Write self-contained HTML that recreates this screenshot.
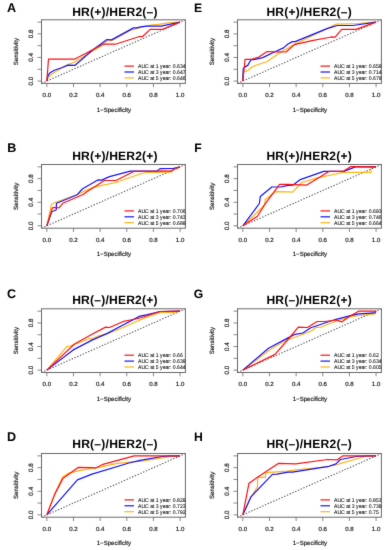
<!DOCTYPE html><html><head><meta charset="utf-8"><style>html,body{margin:0;padding:0;background:#fff;width:385px;height:550px;overflow:hidden}svg{display:block}text{font-family:"Liberation Sans",Arial,sans-serif;text-rendering:geometricPrecision}.s{stroke:#333;stroke-width:0.2;paint-order:stroke}.s2{stroke:#333;stroke-width:0.12;paint-order:stroke}svg{filter:none}</style></head><body>
<svg width="385" height="550" viewBox="0 0 385 550">
<rect width="385" height="550" fill="#fff"/>
<defs>
<filter id="soft" x="0" y="0" width="100%" height="100%" color-interpolation-filters="sRGB"><feConvolveMatrix order="3" kernelMatrix="0.01 0.065 0.01 0.065 0.7 0.065 0.01 0.065 0.01" divisor="1" edgeMode="duplicate"/></filter>
<clipPath id="cpA"><rect x="41.5" y="19.8" width="143.9" height="63.6"/></clipPath>
<clipPath id="cpB"><rect x="41.5" y="164.5" width="143.9" height="63.7"/></clipPath>
<clipPath id="cpC"><rect x="41.5" y="308.8" width="143.9" height="63.7"/></clipPath>
<clipPath id="cpD"><rect x="41.5" y="453.5" width="143.9" height="63.7"/></clipPath>
<clipPath id="cpE"><rect x="237.5" y="19.8" width="143.9" height="63.6"/></clipPath>
<clipPath id="cpF"><rect x="237.5" y="164.5" width="143.9" height="63.7"/></clipPath>
<clipPath id="cpG"><rect x="237.5" y="308.8" width="143.9" height="63.7"/></clipPath>
<clipPath id="cpH"><rect x="237.5" y="453.5" width="143.9" height="63.7"/></clipPath>
</defs>
<g filter="url(#soft)">
<rect width="385" height="550" fill="#fff"/>
<g><text x="7" y="11.6" font-size="12.6" font-weight="bold" fill="#000">A</text><text x="72.2" y="15.6" font-size="12.1" font-weight="bold" fill="#000" textLength="85.3" lengthAdjust="spacing">HR(+)/HER2(–)</text><line x1="41.5" y1="83.4" x2="185.4" y2="19.8" stroke="#5a5a5a" stroke-width="1.1" stroke-dasharray="1.4 1.6" clip-path="url(#cpA)"/><polyline points="46.83,81.04 47.8,78 52.4,73.5 68,64.4 74.5,62.2 92,51.4 103,44.8 107.8,40.4 111.6,40.8 130.4,30.5 134.5,29.4 140.8,27.1 151.2,25.1 160,24.2 168.5,22.9 180.07,22.16" fill="none" stroke="#ffb414" stroke-width="1.2" stroke-linejoin="round"/><polyline points="46.83,81.04 47.8,76.1 49.8,72.9 53.7,70.5 61.5,67.7 68,65.1 75.1,65.3 92,50.5 107,39.5 111.6,39.9 133.5,27.9 136.6,27.9 140.8,26.8 147,26.2 161.3,26.2 180.07,22.16" fill="none" stroke="#1414ff" stroke-width="1.2" stroke-linejoin="round"/><polyline points="46.83,81.04 48.5,59.2 74.5,59.2 103,44.2 115.4,44.2 138.7,36.7 142.3,36.7 150.2,29.4 162.5,29.4 180.07,22.16" fill="none" stroke="#ff1010" stroke-width="1.2" stroke-linejoin="round"/><rect x="41.5" y="19.8" width="143.9" height="63.6" fill="none" stroke="#6a6a6a" stroke-width="1"/><line x1="37.5" y1="81.04" x2="41.5" y2="81.04" stroke="#6a6a6a" stroke-width="0.8"/><line x1="46.83" y1="83.4" x2="46.83" y2="87.2" stroke="#6a6a6a" stroke-width="0.8"/><text x="46.83" y="97" class="s" font-size="6.1" text-anchor="middle" fill="#222">0.0</text><line x1="37.5" y1="69.27" x2="41.5" y2="69.27" stroke="#6a6a6a" stroke-width="0.8"/><line x1="73.48" y1="83.4" x2="73.48" y2="87.2" stroke="#6a6a6a" stroke-width="0.8"/><text x="73.48" y="97" class="s" font-size="6.1" text-anchor="middle" fill="#222">0.2</text><line x1="37.5" y1="57.49" x2="41.5" y2="57.49" stroke="#6a6a6a" stroke-width="0.8"/><line x1="100.13" y1="83.4" x2="100.13" y2="87.2" stroke="#6a6a6a" stroke-width="0.8"/><text x="100.13" y="97" class="s" font-size="6.1" text-anchor="middle" fill="#222">0.4</text><line x1="37.5" y1="45.71" x2="41.5" y2="45.71" stroke="#6a6a6a" stroke-width="0.8"/><line x1="126.77" y1="83.4" x2="126.77" y2="87.2" stroke="#6a6a6a" stroke-width="0.8"/><text x="126.77" y="97" class="s" font-size="6.1" text-anchor="middle" fill="#222">0.6</text><line x1="37.5" y1="33.93" x2="41.5" y2="33.93" stroke="#6a6a6a" stroke-width="0.8"/><line x1="153.42" y1="83.4" x2="153.42" y2="87.2" stroke="#6a6a6a" stroke-width="0.8"/><text x="153.42" y="97" class="s" font-size="6.1" text-anchor="middle" fill="#222">0.8</text><line x1="37.5" y1="22.16" x2="41.5" y2="22.16" stroke="#6a6a6a" stroke-width="0.8"/><line x1="180.07" y1="83.4" x2="180.07" y2="87.2" stroke="#6a6a6a" stroke-width="0.8"/><text x="180.07" y="97" class="s" font-size="6.1" text-anchor="middle" fill="#222">1.0</text><text transform="translate(33.1,81.04) rotate(-90)" class="s" font-size="6.3" text-anchor="middle" fill="#222">0.0</text><text transform="translate(33.1,57.49) rotate(-90)" class="s" font-size="6.3" text-anchor="middle" fill="#222">0.4</text><text transform="translate(33.1,33.93) rotate(-90)" class="s" font-size="6.3" text-anchor="middle" fill="#222">0.8</text><text transform="translate(17.8,51.6) rotate(-90)" class="s" font-size="6.1" text-anchor="middle" fill="#222">Sensitivity</text><text x="113.9" y="111.6" class="s" font-size="6.1" text-anchor="middle" fill="#222">1−Specificity</text><line x1="124.5" y1="66.1" x2="134" y2="66.1" stroke="#ff1010" stroke-width="1.2"/><text x="138" y="68.05" class="s2" font-size="5.4" fill="#222" textLength="47.58" lengthAdjust="spacingAndGlyphs">AUC at 1 year: 0.634</text><line x1="124.5" y1="72" x2="134" y2="72" stroke="#1414ff" stroke-width="1.2"/><text x="138" y="73.95" class="s2" font-size="5.4" fill="#222" textLength="47.58" lengthAdjust="spacingAndGlyphs">AUC at 3 year: 0.647</text><line x1="124.5" y1="77.9" x2="134" y2="77.9" stroke="#ffb414" stroke-width="1.2"/><text x="138" y="79.85" class="s2" font-size="5.4" fill="#222" textLength="47.58" lengthAdjust="spacingAndGlyphs">AUC at 5 year: 0.646</text></g>
<g><text x="7.3" y="151.8" font-size="12.6" font-weight="bold" fill="#000">B</text><text x="72.2" y="159.8" font-size="12.1" font-weight="bold" fill="#000" textLength="85.3" lengthAdjust="spacing">HR(+)/HER2(+)</text><line x1="41.5" y1="228.2" x2="185.4" y2="164.5" stroke="#5a5a5a" stroke-width="1.1" stroke-dasharray="1.4 1.6" clip-path="url(#cpB)"/><polyline points="46.83,225.84 51.4,204.3 56.3,202 77.1,194.8 84.9,190.9 92,187.7 103,185.1 116,182.5 140,174 146.4,172.5 171,172.1 174.3,169.5 180.07,166.86" fill="none" stroke="#ffb414" stroke-width="1.2" stroke-linejoin="round"/><polyline points="46.83,225.84 51.7,211.7 54.3,210.8 56.3,209.8 56.5,203.3 62.8,200.7 77.1,194.8 82.3,189 90,184.4 97.8,179.9 101.7,180.1 109.5,176.6 130.3,171.1 156.8,171.1 160,168.6 173.7,168.4 180.07,166.86" fill="none" stroke="#1414ff" stroke-width="1.2" stroke-linejoin="round"/><polyline points="46.83,225.84 52.4,207.8 55,207.4 58.9,207.8 62.8,203.3 83.6,194.2 86.8,191.8 92,188.5 104.3,180.5 116,180.5 134.2,171.3 157.4,171.3 160,170.8 171,171.1 175,168.8 180.07,166.86" fill="none" stroke="#ff1010" stroke-width="1.2" stroke-linejoin="round"/><rect x="41.5" y="164.5" width="143.9" height="63.7" fill="none" stroke="#6a6a6a" stroke-width="1"/><line x1="37.5" y1="225.84" x2="41.5" y2="225.84" stroke="#6a6a6a" stroke-width="0.8"/><line x1="46.83" y1="228.2" x2="46.83" y2="232" stroke="#6a6a6a" stroke-width="0.8"/><text x="46.83" y="241.8" class="s" font-size="6.1" text-anchor="middle" fill="#222">0.0</text><line x1="37.5" y1="214.04" x2="41.5" y2="214.04" stroke="#6a6a6a" stroke-width="0.8"/><line x1="73.48" y1="228.2" x2="73.48" y2="232" stroke="#6a6a6a" stroke-width="0.8"/><text x="73.48" y="241.8" class="s" font-size="6.1" text-anchor="middle" fill="#222">0.2</text><line x1="37.5" y1="202.25" x2="41.5" y2="202.25" stroke="#6a6a6a" stroke-width="0.8"/><line x1="100.13" y1="228.2" x2="100.13" y2="232" stroke="#6a6a6a" stroke-width="0.8"/><text x="100.13" y="241.8" class="s" font-size="6.1" text-anchor="middle" fill="#222">0.4</text><line x1="37.5" y1="190.45" x2="41.5" y2="190.45" stroke="#6a6a6a" stroke-width="0.8"/><line x1="126.77" y1="228.2" x2="126.77" y2="232" stroke="#6a6a6a" stroke-width="0.8"/><text x="126.77" y="241.8" class="s" font-size="6.1" text-anchor="middle" fill="#222">0.6</text><line x1="37.5" y1="178.66" x2="41.5" y2="178.66" stroke="#6a6a6a" stroke-width="0.8"/><line x1="153.42" y1="228.2" x2="153.42" y2="232" stroke="#6a6a6a" stroke-width="0.8"/><text x="153.42" y="241.8" class="s" font-size="6.1" text-anchor="middle" fill="#222">0.8</text><line x1="37.5" y1="166.86" x2="41.5" y2="166.86" stroke="#6a6a6a" stroke-width="0.8"/><line x1="180.07" y1="228.2" x2="180.07" y2="232" stroke="#6a6a6a" stroke-width="0.8"/><text x="180.07" y="241.8" class="s" font-size="6.1" text-anchor="middle" fill="#222">1.0</text><text transform="translate(33.1,225.84) rotate(-90)" class="s" font-size="6.3" text-anchor="middle" fill="#222">0.0</text><text transform="translate(33.1,202.25) rotate(-90)" class="s" font-size="6.3" text-anchor="middle" fill="#222">0.4</text><text transform="translate(33.1,178.66) rotate(-90)" class="s" font-size="6.3" text-anchor="middle" fill="#222">0.8</text><text transform="translate(17.8,196.35) rotate(-90)" class="s" font-size="6.1" text-anchor="middle" fill="#222">Sensitivity</text><text x="113.9" y="256.4" class="s" font-size="6.1" text-anchor="middle" fill="#222">1−Specificity</text><line x1="124.5" y1="210.9" x2="134" y2="210.9" stroke="#ff1010" stroke-width="1.2"/><text x="138" y="212.85" class="s2" font-size="5.4" fill="#222" textLength="47.58" lengthAdjust="spacingAndGlyphs">AUC at 1 year: 0.706</text><line x1="124.5" y1="216.8" x2="134" y2="216.8" stroke="#1414ff" stroke-width="1.2"/><text x="138" y="218.75" class="s2" font-size="5.4" fill="#222" textLength="47.58" lengthAdjust="spacingAndGlyphs">AUC at 3 year: 0.743</text><line x1="124.5" y1="222.7" x2="134" y2="222.7" stroke="#ffb414" stroke-width="1.2"/><text x="138" y="224.65" class="s2" font-size="5.4" fill="#222" textLength="47.58" lengthAdjust="spacingAndGlyphs">AUC at 5 year: 0.689</text></g>
<g><text x="6.9" y="297.8" font-size="12.6" font-weight="bold" fill="#000">C</text><text x="72.2" y="304" font-size="12.1" font-weight="bold" fill="#000" textLength="85.3" lengthAdjust="spacing">HR(–)/HER2(+)</text><line x1="41.5" y1="372.5" x2="185.4" y2="308.8" stroke="#5a5a5a" stroke-width="1.1" stroke-dasharray="1.4 1.6" clip-path="url(#cpC)"/><polyline points="46.83,370.14 66.7,346.6 69.9,346 75.8,344 88.8,338.8 92,338.8 97.8,336.2 106.9,333.6 114.7,331 140,320 149,316.1 160.7,312.5 173.7,312.5 180.07,311.16" fill="none" stroke="#ffb414" stroke-width="1.2" stroke-linejoin="round"/><polyline points="46.83,370.14 73.2,349.9 92,340.1 106.9,333.6 122.5,325.2 140,316.1 146.4,314.8 160,311.5 180.07,311.16" fill="none" stroke="#1414ff" stroke-width="1.2" stroke-linejoin="round"/><polyline points="46.83,370.14 74.5,344 92,334.3 105.6,327.1 109.5,327.5 123.8,321.3 130.3,320 140,318 160,311.5 180.07,311.16" fill="none" stroke="#ff1010" stroke-width="1.2" stroke-linejoin="round"/><rect x="41.5" y="308.8" width="143.9" height="63.7" fill="none" stroke="#6a6a6a" stroke-width="1"/><line x1="37.5" y1="370.14" x2="41.5" y2="370.14" stroke="#6a6a6a" stroke-width="0.8"/><line x1="46.83" y1="372.5" x2="46.83" y2="376.3" stroke="#6a6a6a" stroke-width="0.8"/><text x="46.83" y="386.1" class="s" font-size="6.1" text-anchor="middle" fill="#222">0.0</text><line x1="37.5" y1="358.34" x2="41.5" y2="358.34" stroke="#6a6a6a" stroke-width="0.8"/><line x1="73.48" y1="372.5" x2="73.48" y2="376.3" stroke="#6a6a6a" stroke-width="0.8"/><text x="73.48" y="386.1" class="s" font-size="6.1" text-anchor="middle" fill="#222">0.2</text><line x1="37.5" y1="346.55" x2="41.5" y2="346.55" stroke="#6a6a6a" stroke-width="0.8"/><line x1="100.13" y1="372.5" x2="100.13" y2="376.3" stroke="#6a6a6a" stroke-width="0.8"/><text x="100.13" y="386.1" class="s" font-size="6.1" text-anchor="middle" fill="#222">0.4</text><line x1="37.5" y1="334.75" x2="41.5" y2="334.75" stroke="#6a6a6a" stroke-width="0.8"/><line x1="126.77" y1="372.5" x2="126.77" y2="376.3" stroke="#6a6a6a" stroke-width="0.8"/><text x="126.77" y="386.1" class="s" font-size="6.1" text-anchor="middle" fill="#222">0.6</text><line x1="37.5" y1="322.96" x2="41.5" y2="322.96" stroke="#6a6a6a" stroke-width="0.8"/><line x1="153.42" y1="372.5" x2="153.42" y2="376.3" stroke="#6a6a6a" stroke-width="0.8"/><text x="153.42" y="386.1" class="s" font-size="6.1" text-anchor="middle" fill="#222">0.8</text><line x1="37.5" y1="311.16" x2="41.5" y2="311.16" stroke="#6a6a6a" stroke-width="0.8"/><line x1="180.07" y1="372.5" x2="180.07" y2="376.3" stroke="#6a6a6a" stroke-width="0.8"/><text x="180.07" y="386.1" class="s" font-size="6.1" text-anchor="middle" fill="#222">1.0</text><text transform="translate(33.1,370.14) rotate(-90)" class="s" font-size="6.3" text-anchor="middle" fill="#222">0.0</text><text transform="translate(33.1,346.55) rotate(-90)" class="s" font-size="6.3" text-anchor="middle" fill="#222">0.4</text><text transform="translate(33.1,322.96) rotate(-90)" class="s" font-size="6.3" text-anchor="middle" fill="#222">0.8</text><text transform="translate(17.8,340.65) rotate(-90)" class="s" font-size="6.1" text-anchor="middle" fill="#222">Sensitivity</text><text x="113.9" y="400.7" class="s" font-size="6.1" text-anchor="middle" fill="#222">1−Specificity</text><line x1="124.5" y1="355.2" x2="134" y2="355.2" stroke="#ff1010" stroke-width="1.2"/><text x="138" y="357.15" class="s2" font-size="5.4" fill="#222" textLength="44.74" lengthAdjust="spacingAndGlyphs">AUC at 1 year: 0.66</text><line x1="124.5" y1="361.1" x2="134" y2="361.1" stroke="#1414ff" stroke-width="1.2"/><text x="138" y="363.05" class="s2" font-size="5.4" fill="#222" textLength="47.58" lengthAdjust="spacingAndGlyphs">AUC at 3 year: 0.639</text><line x1="124.5" y1="367" x2="134" y2="367" stroke="#ffb414" stroke-width="1.2"/><text x="138" y="368.95" class="s2" font-size="5.4" fill="#222" textLength="47.58" lengthAdjust="spacingAndGlyphs">AUC at 5 year: 0.644</text></g>
<g><text x="7" y="441" font-size="12.6" font-weight="bold" fill="#000">D</text><text x="72.2" y="448.2" font-size="12.1" font-weight="bold" fill="#000" textLength="85.3" lengthAdjust="spacing">HR(–)/HER2(–)</text><line x1="41.5" y1="517.2" x2="185.4" y2="453.5" stroke="#5a5a5a" stroke-width="1.1" stroke-dasharray="1.4 1.6" clip-path="url(#cpD)"/><polyline points="46.83,514.84 54.3,494.9 62.8,476.7 68,473.4 78.4,470.8 92,468.2 97.8,467.6 116,463.7 129,462.1 140,461.4 162,457.8 172.4,456.5 180.07,455.86" fill="none" stroke="#ffb414" stroke-width="1.2" stroke-linejoin="round"/><polyline points="46.83,514.84 77.4,479.9 92,474.1 129,463 140,460.4 162,456.5 169.8,455.9 180.07,455.86" fill="none" stroke="#1414ff" stroke-width="1.2" stroke-linejoin="round"/><polyline points="46.83,514.84 55,493.6 62.8,478.6 78.4,467.3 92,467.6 95.2,468.2 103,464.3 134.2,455.8 180.07,455.86" fill="none" stroke="#ff1010" stroke-width="1.2" stroke-linejoin="round"/><rect x="41.5" y="453.5" width="143.9" height="63.7" fill="none" stroke="#6a6a6a" stroke-width="1"/><line x1="37.5" y1="514.84" x2="41.5" y2="514.84" stroke="#6a6a6a" stroke-width="0.8"/><line x1="46.83" y1="517.2" x2="46.83" y2="521" stroke="#6a6a6a" stroke-width="0.8"/><text x="46.83" y="530.8" class="s" font-size="6.1" text-anchor="middle" fill="#222">0.0</text><line x1="37.5" y1="503.04" x2="41.5" y2="503.04" stroke="#6a6a6a" stroke-width="0.8"/><line x1="73.48" y1="517.2" x2="73.48" y2="521" stroke="#6a6a6a" stroke-width="0.8"/><text x="73.48" y="530.8" class="s" font-size="6.1" text-anchor="middle" fill="#222">0.2</text><line x1="37.5" y1="491.25" x2="41.5" y2="491.25" stroke="#6a6a6a" stroke-width="0.8"/><line x1="100.13" y1="517.2" x2="100.13" y2="521" stroke="#6a6a6a" stroke-width="0.8"/><text x="100.13" y="530.8" class="s" font-size="6.1" text-anchor="middle" fill="#222">0.4</text><line x1="37.5" y1="479.45" x2="41.5" y2="479.45" stroke="#6a6a6a" stroke-width="0.8"/><line x1="126.77" y1="517.2" x2="126.77" y2="521" stroke="#6a6a6a" stroke-width="0.8"/><text x="126.77" y="530.8" class="s" font-size="6.1" text-anchor="middle" fill="#222">0.6</text><line x1="37.5" y1="467.66" x2="41.5" y2="467.66" stroke="#6a6a6a" stroke-width="0.8"/><line x1="153.42" y1="517.2" x2="153.42" y2="521" stroke="#6a6a6a" stroke-width="0.8"/><text x="153.42" y="530.8" class="s" font-size="6.1" text-anchor="middle" fill="#222">0.8</text><line x1="37.5" y1="455.86" x2="41.5" y2="455.86" stroke="#6a6a6a" stroke-width="0.8"/><line x1="180.07" y1="517.2" x2="180.07" y2="521" stroke="#6a6a6a" stroke-width="0.8"/><text x="180.07" y="530.8" class="s" font-size="6.1" text-anchor="middle" fill="#222">1.0</text><text transform="translate(33.1,514.84) rotate(-90)" class="s" font-size="6.3" text-anchor="middle" fill="#222">0.0</text><text transform="translate(33.1,491.25) rotate(-90)" class="s" font-size="6.3" text-anchor="middle" fill="#222">0.4</text><text transform="translate(33.1,467.66) rotate(-90)" class="s" font-size="6.3" text-anchor="middle" fill="#222">0.8</text><text transform="translate(17.8,485.35) rotate(-90)" class="s" font-size="6.1" text-anchor="middle" fill="#222">Sensitivity</text><text x="113.9" y="545.4" class="s" font-size="6.1" text-anchor="middle" fill="#222">1−Specificity</text><line x1="124.5" y1="499.9" x2="134" y2="499.9" stroke="#ff1010" stroke-width="1.2"/><text x="138" y="501.85" class="s2" font-size="5.4" fill="#222" textLength="47.58" lengthAdjust="spacingAndGlyphs">AUC at 1 year: 0.829</text><line x1="124.5" y1="505.8" x2="134" y2="505.8" stroke="#1414ff" stroke-width="1.2"/><text x="138" y="507.75" class="s2" font-size="5.4" fill="#222" textLength="47.58" lengthAdjust="spacingAndGlyphs">AUC at 3 year: 0.723</text><line x1="124.5" y1="511.7" x2="134" y2="511.7" stroke="#ffb414" stroke-width="1.2"/><text x="138" y="513.65" class="s2" font-size="5.4" fill="#222" textLength="47.58" lengthAdjust="spacingAndGlyphs">AUC at 5 year: 0.792</text></g>
<g><text x="194.1" y="11.8" font-size="12.2" font-weight="bold" fill="#000">E</text><text x="266.4" y="15.6" font-size="12.1" font-weight="bold" fill="#000" textLength="85.3" lengthAdjust="spacing">HR(+)/HER2(–)</text><line x1="237.5" y1="83.4" x2="381.4" y2="19.8" stroke="#5a5a5a" stroke-width="1.1" stroke-dasharray="1.4 1.6" clip-path="url(#cpE)"/><polyline points="242.83,81.04 243.2,72.5 244.5,71.5 247.7,70.6 252.3,66.7 267.2,61.5 280.9,52 288,47.9 293.8,44.6 328.9,27.7 332,26.1 335.9,24.2 358,23.5 376.07,22.16" fill="none" stroke="#ffb414" stroke-width="1.2" stroke-linejoin="round"/><polyline points="242.83,81.04 243.2,68.6 244.5,67.1 247.7,65.4 251,59.8 254.9,59.3 262.7,57.6 274.4,52 283.5,47.9 288,44 292.5,41.6 295.1,41.6 327.6,28.4 332,27.1 337.2,25.5 352.8,25.5 376.07,22.16" fill="none" stroke="#1414ff" stroke-width="1.2" stroke-linejoin="round"/><polyline points="242.83,81.04 245.1,59.3 251.6,59.3 258.8,57 267.2,51.5 275,51.8 286,52 294.4,44.6 312,40.7 328.9,37.5 332,36.8 335.2,37.2 341.7,29.4 356,29.4 376.07,22.16" fill="none" stroke="#ff1010" stroke-width="1.2" stroke-linejoin="round"/><rect x="237.5" y="19.8" width="143.9" height="63.6" fill="none" stroke="#6a6a6a" stroke-width="1"/><line x1="233.5" y1="81.04" x2="237.5" y2="81.04" stroke="#6a6a6a" stroke-width="0.8"/><line x1="242.83" y1="83.4" x2="242.83" y2="87.2" stroke="#6a6a6a" stroke-width="0.8"/><text x="242.83" y="97" class="s" font-size="6.1" text-anchor="middle" fill="#222">0.0</text><line x1="233.5" y1="69.27" x2="237.5" y2="69.27" stroke="#6a6a6a" stroke-width="0.8"/><line x1="269.48" y1="83.4" x2="269.48" y2="87.2" stroke="#6a6a6a" stroke-width="0.8"/><text x="269.48" y="97" class="s" font-size="6.1" text-anchor="middle" fill="#222">0.2</text><line x1="233.5" y1="57.49" x2="237.5" y2="57.49" stroke="#6a6a6a" stroke-width="0.8"/><line x1="296.13" y1="83.4" x2="296.13" y2="87.2" stroke="#6a6a6a" stroke-width="0.8"/><text x="296.13" y="97" class="s" font-size="6.1" text-anchor="middle" fill="#222">0.4</text><line x1="233.5" y1="45.71" x2="237.5" y2="45.71" stroke="#6a6a6a" stroke-width="0.8"/><line x1="322.77" y1="83.4" x2="322.77" y2="87.2" stroke="#6a6a6a" stroke-width="0.8"/><text x="322.77" y="97" class="s" font-size="6.1" text-anchor="middle" fill="#222">0.6</text><line x1="233.5" y1="33.93" x2="237.5" y2="33.93" stroke="#6a6a6a" stroke-width="0.8"/><line x1="349.42" y1="83.4" x2="349.42" y2="87.2" stroke="#6a6a6a" stroke-width="0.8"/><text x="349.42" y="97" class="s" font-size="6.1" text-anchor="middle" fill="#222">0.8</text><line x1="233.5" y1="22.16" x2="237.5" y2="22.16" stroke="#6a6a6a" stroke-width="0.8"/><line x1="376.07" y1="83.4" x2="376.07" y2="87.2" stroke="#6a6a6a" stroke-width="0.8"/><text x="376.07" y="97" class="s" font-size="6.1" text-anchor="middle" fill="#222">1.0</text><text transform="translate(229.1,81.04) rotate(-90)" class="s" font-size="6.3" text-anchor="middle" fill="#222">0.0</text><text transform="translate(229.1,57.49) rotate(-90)" class="s" font-size="6.3" text-anchor="middle" fill="#222">0.4</text><text transform="translate(229.1,33.93) rotate(-90)" class="s" font-size="6.3" text-anchor="middle" fill="#222">0.8</text><text transform="translate(213.8,51.6) rotate(-90)" class="s" font-size="6.1" text-anchor="middle" fill="#222">Sensitivity</text><text x="309.9" y="111.6" class="s" font-size="6.1" text-anchor="middle" fill="#222">1−Specificity</text><line x1="320.5" y1="66.1" x2="330" y2="66.1" stroke="#ff1010" stroke-width="1.2"/><text x="334" y="68.05" class="s2" font-size="5.4" fill="#222" textLength="47.58" lengthAdjust="spacingAndGlyphs">AUC at 1 year: 0.659</text><line x1="320.5" y1="72" x2="330" y2="72" stroke="#1414ff" stroke-width="1.2"/><text x="334" y="73.95" class="s2" font-size="5.4" fill="#222" textLength="47.58" lengthAdjust="spacingAndGlyphs">AUC at 3 year: 0.714</text><line x1="320.5" y1="77.9" x2="330" y2="77.9" stroke="#ffb414" stroke-width="1.2"/><text x="334" y="79.85" class="s2" font-size="5.4" fill="#222" textLength="47.58" lengthAdjust="spacingAndGlyphs">AUC at 5 year: 0.679</text></g>
<g><text x="194.3" y="151.9" font-size="12.2" font-weight="bold" fill="#000">F</text><text x="266.4" y="159.8" font-size="12.1" font-weight="bold" fill="#000" textLength="85.3" lengthAdjust="spacing">HR(+)/HER2(+)</text><line x1="237.5" y1="228.2" x2="381.4" y2="164.5" stroke="#5a5a5a" stroke-width="1.1" stroke-dasharray="1.4 1.6" clip-path="url(#cpF)"/><polyline points="242.83,225.84 264.6,205.2 265.3,199.4 275.7,191.6 288,191.8 292.5,192.2 301.6,182.5 317.2,177.9 336,174 342.4,172.4 371,172.4 371,166.9 376.07,166.86" fill="none" stroke="#ffb414" stroke-width="1.2" stroke-linejoin="round"/><polyline points="242.83,225.84 259.4,203.5 260.3,196.5 271.8,187 280.9,187 288,185.3 293.1,185.1 300.3,179.6 323.7,171.4 343.7,171.4 356,166.6 376.07,166.86" fill="none" stroke="#1414ff" stroke-width="1.2" stroke-linejoin="round"/><polyline points="242.83,225.84 257.5,216.2 264.6,204.6 279.6,184.4 288,184.4 306.8,185.1 328.9,171.4 343,171.4 350.8,166.6 376.07,166.86" fill="none" stroke="#ff1010" stroke-width="1.2" stroke-linejoin="round"/><rect x="237.5" y="164.5" width="143.9" height="63.7" fill="none" stroke="#6a6a6a" stroke-width="1"/><line x1="233.5" y1="225.84" x2="237.5" y2="225.84" stroke="#6a6a6a" stroke-width="0.8"/><line x1="242.83" y1="228.2" x2="242.83" y2="232" stroke="#6a6a6a" stroke-width="0.8"/><text x="242.83" y="241.8" class="s" font-size="6.1" text-anchor="middle" fill="#222">0.0</text><line x1="233.5" y1="214.04" x2="237.5" y2="214.04" stroke="#6a6a6a" stroke-width="0.8"/><line x1="269.48" y1="228.2" x2="269.48" y2="232" stroke="#6a6a6a" stroke-width="0.8"/><text x="269.48" y="241.8" class="s" font-size="6.1" text-anchor="middle" fill="#222">0.2</text><line x1="233.5" y1="202.25" x2="237.5" y2="202.25" stroke="#6a6a6a" stroke-width="0.8"/><line x1="296.13" y1="228.2" x2="296.13" y2="232" stroke="#6a6a6a" stroke-width="0.8"/><text x="296.13" y="241.8" class="s" font-size="6.1" text-anchor="middle" fill="#222">0.4</text><line x1="233.5" y1="190.45" x2="237.5" y2="190.45" stroke="#6a6a6a" stroke-width="0.8"/><line x1="322.77" y1="228.2" x2="322.77" y2="232" stroke="#6a6a6a" stroke-width="0.8"/><text x="322.77" y="241.8" class="s" font-size="6.1" text-anchor="middle" fill="#222">0.6</text><line x1="233.5" y1="178.66" x2="237.5" y2="178.66" stroke="#6a6a6a" stroke-width="0.8"/><line x1="349.42" y1="228.2" x2="349.42" y2="232" stroke="#6a6a6a" stroke-width="0.8"/><text x="349.42" y="241.8" class="s" font-size="6.1" text-anchor="middle" fill="#222">0.8</text><line x1="233.5" y1="166.86" x2="237.5" y2="166.86" stroke="#6a6a6a" stroke-width="0.8"/><line x1="376.07" y1="228.2" x2="376.07" y2="232" stroke="#6a6a6a" stroke-width="0.8"/><text x="376.07" y="241.8" class="s" font-size="6.1" text-anchor="middle" fill="#222">1.0</text><text transform="translate(229.1,225.84) rotate(-90)" class="s" font-size="6.3" text-anchor="middle" fill="#222">0.0</text><text transform="translate(229.1,202.25) rotate(-90)" class="s" font-size="6.3" text-anchor="middle" fill="#222">0.4</text><text transform="translate(229.1,178.66) rotate(-90)" class="s" font-size="6.3" text-anchor="middle" fill="#222">0.8</text><text transform="translate(213.8,196.35) rotate(-90)" class="s" font-size="6.1" text-anchor="middle" fill="#222">Sensitivity</text><text x="309.9" y="256.4" class="s" font-size="6.1" text-anchor="middle" fill="#222">1−Specificity</text><line x1="320.5" y1="210.9" x2="330" y2="210.9" stroke="#ff1010" stroke-width="1.2"/><text x="334" y="212.85" class="s2" font-size="5.4" fill="#222" textLength="47.58" lengthAdjust="spacingAndGlyphs">AUC at 1 year: 0.693</text><line x1="320.5" y1="216.8" x2="330" y2="216.8" stroke="#1414ff" stroke-width="1.2"/><text x="334" y="218.75" class="s2" font-size="5.4" fill="#222" textLength="47.58" lengthAdjust="spacingAndGlyphs">AUC at 3 year: 0.746</text><line x1="320.5" y1="222.7" x2="330" y2="222.7" stroke="#ffb414" stroke-width="1.2"/><text x="334" y="224.65" class="s2" font-size="5.4" fill="#222" textLength="47.58" lengthAdjust="spacingAndGlyphs">AUC at 5 year: 0.664</text></g>
<g><text x="193.7" y="297.8" font-size="12.2" font-weight="bold" fill="#000">G</text><text x="266.4" y="304" font-size="12.1" font-weight="bold" fill="#000" textLength="85.3" lengthAdjust="spacing">HR(–)/HER2(+)</text><line x1="237.5" y1="372.5" x2="381.4" y2="308.8" stroke="#5a5a5a" stroke-width="1.1" stroke-dasharray="1.4 1.6" clip-path="url(#cpG)"/><polyline points="242.83,370.14 270.5,349.2 284.8,341 288,339.5 297.7,336.2 311.3,331 316.5,327.1 319.8,327.5 336,321.3 351.5,316.4 374.9,313.8 376.07,311.16" fill="none" stroke="#ffb414" stroke-width="1.2" stroke-linejoin="round"/><polyline points="242.83,370.14 268.5,348.3 288,337.9 295.1,334.3 302.9,333 310.7,327.8 336,319.3 351.5,315.4 358.6,313.8 374.9,312.8 376.07,311.16" fill="none" stroke="#1414ff" stroke-width="1.2" stroke-linejoin="round"/><polyline points="242.83,370.14 275,354.4 288,339.5 298.3,327.1 307.4,327.5 317.2,321.5 325,321.5 336,320 341.7,321.9 348.9,316.7 358.6,311.2 376.07,311.16" fill="none" stroke="#ff1010" stroke-width="1.2" stroke-linejoin="round"/><rect x="237.5" y="308.8" width="143.9" height="63.7" fill="none" stroke="#6a6a6a" stroke-width="1"/><line x1="233.5" y1="370.14" x2="237.5" y2="370.14" stroke="#6a6a6a" stroke-width="0.8"/><line x1="242.83" y1="372.5" x2="242.83" y2="376.3" stroke="#6a6a6a" stroke-width="0.8"/><text x="242.83" y="386.1" class="s" font-size="6.1" text-anchor="middle" fill="#222">0.0</text><line x1="233.5" y1="358.34" x2="237.5" y2="358.34" stroke="#6a6a6a" stroke-width="0.8"/><line x1="269.48" y1="372.5" x2="269.48" y2="376.3" stroke="#6a6a6a" stroke-width="0.8"/><text x="269.48" y="386.1" class="s" font-size="6.1" text-anchor="middle" fill="#222">0.2</text><line x1="233.5" y1="346.55" x2="237.5" y2="346.55" stroke="#6a6a6a" stroke-width="0.8"/><line x1="296.13" y1="372.5" x2="296.13" y2="376.3" stroke="#6a6a6a" stroke-width="0.8"/><text x="296.13" y="386.1" class="s" font-size="6.1" text-anchor="middle" fill="#222">0.4</text><line x1="233.5" y1="334.75" x2="237.5" y2="334.75" stroke="#6a6a6a" stroke-width="0.8"/><line x1="322.77" y1="372.5" x2="322.77" y2="376.3" stroke="#6a6a6a" stroke-width="0.8"/><text x="322.77" y="386.1" class="s" font-size="6.1" text-anchor="middle" fill="#222">0.6</text><line x1="233.5" y1="322.96" x2="237.5" y2="322.96" stroke="#6a6a6a" stroke-width="0.8"/><line x1="349.42" y1="372.5" x2="349.42" y2="376.3" stroke="#6a6a6a" stroke-width="0.8"/><text x="349.42" y="386.1" class="s" font-size="6.1" text-anchor="middle" fill="#222">0.8</text><line x1="233.5" y1="311.16" x2="237.5" y2="311.16" stroke="#6a6a6a" stroke-width="0.8"/><line x1="376.07" y1="372.5" x2="376.07" y2="376.3" stroke="#6a6a6a" stroke-width="0.8"/><text x="376.07" y="386.1" class="s" font-size="6.1" text-anchor="middle" fill="#222">1.0</text><text transform="translate(229.1,370.14) rotate(-90)" class="s" font-size="6.3" text-anchor="middle" fill="#222">0.0</text><text transform="translate(229.1,346.55) rotate(-90)" class="s" font-size="6.3" text-anchor="middle" fill="#222">0.4</text><text transform="translate(229.1,322.96) rotate(-90)" class="s" font-size="6.3" text-anchor="middle" fill="#222">0.8</text><text transform="translate(213.8,340.65) rotate(-90)" class="s" font-size="6.1" text-anchor="middle" fill="#222">Sensitivity</text><text x="309.9" y="400.7" class="s" font-size="6.1" text-anchor="middle" fill="#222">1−Specificity</text><line x1="320.5" y1="355.2" x2="330" y2="355.2" stroke="#ff1010" stroke-width="1.2"/><text x="334" y="357.15" class="s2" font-size="5.4" fill="#222" textLength="44.74" lengthAdjust="spacingAndGlyphs">AUC at 1 year: 0.62</text><line x1="320.5" y1="361.1" x2="330" y2="361.1" stroke="#1414ff" stroke-width="1.2"/><text x="334" y="363.05" class="s2" font-size="5.4" fill="#222" textLength="47.58" lengthAdjust="spacingAndGlyphs">AUC at 3 year: 0.634</text><line x1="320.5" y1="367" x2="330" y2="367" stroke="#ffb414" stroke-width="1.2"/><text x="334" y="368.95" class="s2" font-size="5.4" fill="#222" textLength="47.58" lengthAdjust="spacingAndGlyphs">AUC at 5 year: 0.605</text></g>
<g><text x="193.9" y="441.2" font-size="12.2" font-weight="bold" fill="#000">H</text><text x="266.4" y="448.2" font-size="12.1" font-weight="bold" fill="#000" textLength="85.3" lengthAdjust="spacing">HR(–)/HER2(–)</text><line x1="237.5" y1="517.2" x2="381.4" y2="453.5" stroke="#5a5a5a" stroke-width="1.1" stroke-dasharray="1.4 1.6" clip-path="url(#cpH)"/><polyline points="242.83,514.84 251,496.8 257.5,486.8 257.7,477.3 265.3,477.3 265.9,472.8 272.4,472.1 288,471.2 293.8,470.2 328.9,466.5 336,465 339.8,463.7 367.1,456 376.07,455.86" fill="none" stroke="#ffb414" stroke-width="1.2" stroke-linejoin="round"/><polyline points="242.83,514.84 251,496.8 272.4,474.3 277,474.1 288,472.1 292.5,472.1 328.9,466.3 336,463.9 340.4,459.5 356.7,456.5 367.1,455.8 376.07,455.86" fill="none" stroke="#1414ff" stroke-width="1.2" stroke-linejoin="round"/><polyline points="242.83,514.84 249,483.2 257.5,477.3 278.3,463.4 295.7,463.9 327.6,459.5 337.2,459.8 343,455.8 376.07,455.86" fill="none" stroke="#ff1010" stroke-width="1.2" stroke-linejoin="round"/><rect x="237.5" y="453.5" width="143.9" height="63.7" fill="none" stroke="#6a6a6a" stroke-width="1"/><line x1="233.5" y1="514.84" x2="237.5" y2="514.84" stroke="#6a6a6a" stroke-width="0.8"/><line x1="242.83" y1="517.2" x2="242.83" y2="521" stroke="#6a6a6a" stroke-width="0.8"/><text x="242.83" y="530.8" class="s" font-size="6.1" text-anchor="middle" fill="#222">0.0</text><line x1="233.5" y1="503.04" x2="237.5" y2="503.04" stroke="#6a6a6a" stroke-width="0.8"/><line x1="269.48" y1="517.2" x2="269.48" y2="521" stroke="#6a6a6a" stroke-width="0.8"/><text x="269.48" y="530.8" class="s" font-size="6.1" text-anchor="middle" fill="#222">0.2</text><line x1="233.5" y1="491.25" x2="237.5" y2="491.25" stroke="#6a6a6a" stroke-width="0.8"/><line x1="296.13" y1="517.2" x2="296.13" y2="521" stroke="#6a6a6a" stroke-width="0.8"/><text x="296.13" y="530.8" class="s" font-size="6.1" text-anchor="middle" fill="#222">0.4</text><line x1="233.5" y1="479.45" x2="237.5" y2="479.45" stroke="#6a6a6a" stroke-width="0.8"/><line x1="322.77" y1="517.2" x2="322.77" y2="521" stroke="#6a6a6a" stroke-width="0.8"/><text x="322.77" y="530.8" class="s" font-size="6.1" text-anchor="middle" fill="#222">0.6</text><line x1="233.5" y1="467.66" x2="237.5" y2="467.66" stroke="#6a6a6a" stroke-width="0.8"/><line x1="349.42" y1="517.2" x2="349.42" y2="521" stroke="#6a6a6a" stroke-width="0.8"/><text x="349.42" y="530.8" class="s" font-size="6.1" text-anchor="middle" fill="#222">0.8</text><line x1="233.5" y1="455.86" x2="237.5" y2="455.86" stroke="#6a6a6a" stroke-width="0.8"/><line x1="376.07" y1="517.2" x2="376.07" y2="521" stroke="#6a6a6a" stroke-width="0.8"/><text x="376.07" y="530.8" class="s" font-size="6.1" text-anchor="middle" fill="#222">1.0</text><text transform="translate(229.1,514.84) rotate(-90)" class="s" font-size="6.3" text-anchor="middle" fill="#222">0.0</text><text transform="translate(229.1,491.25) rotate(-90)" class="s" font-size="6.3" text-anchor="middle" fill="#222">0.4</text><text transform="translate(229.1,467.66) rotate(-90)" class="s" font-size="6.3" text-anchor="middle" fill="#222">0.8</text><text transform="translate(213.8,485.35) rotate(-90)" class="s" font-size="6.1" text-anchor="middle" fill="#222">Sensitivity</text><text x="309.9" y="545.4" class="s" font-size="6.1" text-anchor="middle" fill="#222">1−Specificity</text><line x1="320.5" y1="499.9" x2="330" y2="499.9" stroke="#ff1010" stroke-width="1.2"/><text x="334" y="501.85" class="s2" font-size="5.4" fill="#222" textLength="47.58" lengthAdjust="spacingAndGlyphs">AUC at 1 year: 0.853</text><line x1="320.5" y1="505.8" x2="330" y2="505.8" stroke="#1414ff" stroke-width="1.2"/><text x="334" y="507.75" class="s2" font-size="5.4" fill="#222" textLength="47.58" lengthAdjust="spacingAndGlyphs">AUC at 3 year: 0.739</text><line x1="320.5" y1="511.7" x2="330" y2="511.7" stroke="#ffb414" stroke-width="1.2"/><text x="334" y="513.65" class="s2" font-size="5.4" fill="#222" textLength="44.74" lengthAdjust="spacingAndGlyphs">AUC at 5 year: 0.75</text></g>
</g></svg></body></html>
